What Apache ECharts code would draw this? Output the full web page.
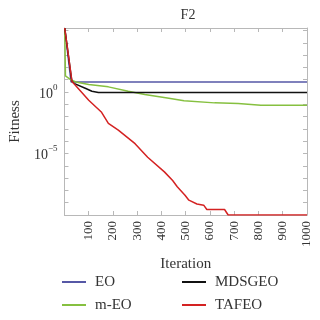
<!DOCTYPE html>
<html><head><meta charset="utf-8">
<script src="https://cdn.jsdelivr.net/npm/echarts@6/dist/echarts.min.js"></script>
<style>html,body{margin:0;padding:0;background:#fff}#c{width:320px;height:320px}</style>
</head><body><div id="c"></div>
<script>
// Data (fitness values)
var eoIter = [1, 27, 1000];
var eoFit = [1.58e5, 6.5, 6.5];

var mdsIter = [1, 30, 39, 88, 113, 140, 1000];
var mdsFit = [1.58e5, 7.9, 5.0, 1.9, 1.15, 0.89, 0.89];

var meoIter = [1, 4, 25, 47, 100, 181, 263, 331, 424, 493, 619, 716, 810, 1000];
var meoFit = [1.58e5, 20, 10, 6.5, 4.0, 2.6, 1.15, 0.62, 0.32, 0.19, 0.13, 0.115, 0.083, 0.083];

var tafIter = [1, 31, 100, 153, 181, 222, 291, 343, 412, 446, 465, 497, 513, 546, 574, 587, 660, 675, 1000];
var tafFit = [1.58e5, 7.1, 0.214, 0.0224, 2.8e-3, 7.9e-4, 6.3e-5, 5.0e-6, 3.2e-7, 6.3e-8, 2.0e-8, 4.0e-9, 1.6e-9, 7.9e-10, 6.3e-10, 2.8e-10, 2.8e-10, 1e-10, 1e-10];

var xTicks = [100, 200, 300, 400, 500, 600, 700, 800, 900, 1000];
var yTickLabels = {"0": "0", "-5": "\u22125"};

function pts(it, f) { return it.map(function (x, i) { return [x, Math.log10(f[i])]; }); }

var SERIF = '"Liberation Serif", "DejaVu Serif", serif';
var frame = '#b8b8b8';
var chart = echarts.init(document.getElementById('c'), null, {renderer: 'canvas'});

function xAx(pos, labels) {
  return {
    type: 'value', position: pos, min: 0, max: 1000, interval: 100,
    name: labels ? 'Iteration' : '', nameLocation: 'middle', nameGap: 42,
    nameTextStyle: {fontFamily: SERIF, fontSize: 15, color: '#333'},
    axisLine: {show: true, onZero: false, lineStyle: {color: frame, width: 1}},
    axisTick: {show: true, inside: true, length: 4, lineStyle: {color: frame}},
    axisLabel: {show: labels, rotate: 90, margin: 6, fontFamily: SERIF, fontSize: 13, color: '#333',
      formatter: function (v) { return xTicks.indexOf(v) >= 0 ? String(v) : ''; }},
    splitLine: {show: false}
  };
}
function yAx(pos, labels) {
  return {
    type: 'value', position: pos, min: -10, max: 5.2, interval: 1,
    name: labels ? 'Fitness' : '', nameLocation: 'middle', nameGap: 32, nameRotate: 90,
    nameTextStyle: {fontFamily: SERIF, fontSize: 15, color: '#333'},
    axisLine: {show: true, onZero: false, lineStyle: {color: frame, width: 1}},
    axisTick: {show: true, inside: true, length: 4, lineStyle: {color: frame}},
    axisLabel: {show: labels, margin: 7, fontFamily: SERIF, color: '#333',
      formatter: function (v) {
        var k = String(Math.round(v));
        if (Math.abs(v - Math.round(v)) < 1e-6 && yTickLabels[k] !== undefined) return '{b|10}{s|' + yTickLabels[k] + '}';
        return '';
      },
      rich: {b: {fontFamily: SERIF, fontSize: 14, color: '#333', verticalAlign: 'bottom', lineHeight: 18},
             s: {fontFamily: SERIF, fontSize: 9, color: '#333', verticalAlign: 'top', lineHeight: 18, padding: [0, 0, 6, 0]}}},
    splitLine: {show: false}
  };
}

function ser(name, it, f, color) {
  return {name: name, type: 'line', data: pts(it, f), showSymbol: false, symbol: 'none',
    lineStyle: {color: color, width: 1.5}, itemStyle: {color: color}, animation: false, clip: true};
}

var legendText = {fontFamily: SERIF, fontSize: 15, color: '#333', lineHeight: 16, padding: [0, 0, 0, 4]};
function leg(name, left, top) {
  return {data: [name], orient: 'horizontal', left: left, top: top, padding: 0, itemGap: 10,
    itemWidth: 24, itemHeight: 2, icon: 'rect', itemStyle: {borderWidth: 0}, textStyle: legendText};
}
chart.setOption({
  animation: false,
  title: {text: 'F2', left: 183, top: 3, textAlign: 'center',
    textStyle: {fontFamily: SERIF, fontSize: 14, fontWeight: 'normal', color: '#333'}},
  grid: {left: 60, right: 13, top: 28, bottom: 105, containLabel: false},
  xAxis: [xAx('bottom', true), xAx('top', false)],
  yAxis: [yAx('left', true), yAx('right', false)],
  legend: [leg('EO', 62, 274), leg('m-EO', 62, 297), leg('MDSGEO', 182, 274), leg('TAFEO', 182, 297)],
  series: [
    ser('EO', eoIter, eoFit, '#5658a6'),
    ser('m-EO', meoIter, meoFit, '#86c040'),
    ser('MDSGEO', mdsIter, mdsFit, '#111111'),
    ser('TAFEO', tafIter, tafFit, '#d42222')
  ]
});
</script></body></html>
